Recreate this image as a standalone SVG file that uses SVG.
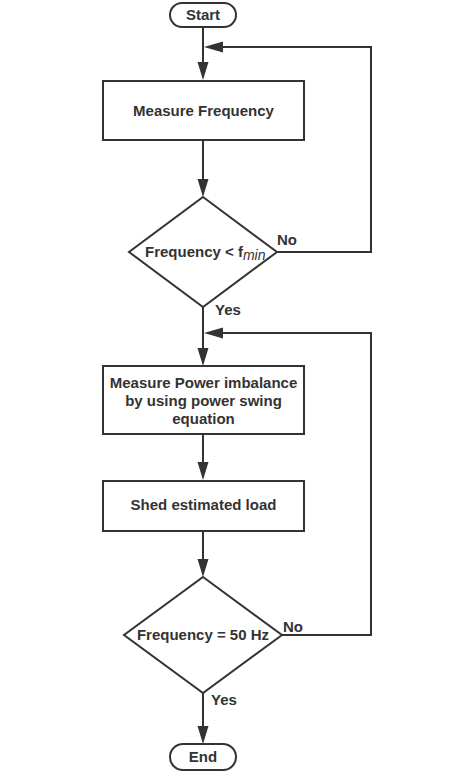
<svg xmlns="http://www.w3.org/2000/svg" width="474" height="781" viewBox="0 0 474 781">
<style>
.sh{fill:#fff;stroke:#333;stroke-width:2}
.ln{fill:none;stroke:#333;stroke-width:2}
.ah{fill:#333}
text{font-family:"Liberation Sans",Arial,sans-serif;font-weight:bold;font-size:15px;fill:#333}
.c{text-anchor:middle}
</style>
<rect width="474" height="781" fill="#fff"/>
<g id="connectors">
<line class="ln" x1="203" y1="27" x2="203" y2="66"/>
<polygon class="ah" points="197.5,62 208.5,62 203,80"/>
<polyline class="ln" points="276,252 371,252 371,47 222,47"/>
<polygon class="ah" points="223,41.5 223,52.5 204,47"/>
<line class="ln" x1="203" y1="140" x2="203" y2="182"/>
<polygon class="ah" points="197.5,179 208.5,179 203,197"/>
<line class="ln" x1="203" y1="307" x2="203" y2="350"/>
<polygon class="ah" points="197.5,348 208.5,348 203,366"/>
<polyline class="ln" points="282,635 371,635 371,333 222,333"/>
<polygon class="ah" points="223,327.5 223,338.5 204,333"/>
<line class="ln" x1="203" y1="434" x2="203" y2="465"/>
<polygon class="ah" points="197.5,462 208.5,462 203,480"/>
<line class="ln" x1="203" y1="531" x2="203" y2="562"/>
<polygon class="ah" points="197.5,559 208.5,559 203,577"/>
<line class="ln" x1="203" y1="693" x2="203" y2="729"/>
<polygon class="ah" points="197.5,726 208.5,726 203,744"/>
<text x="277" y="245">No</text>
<text x="215" y="315">Yes</text>
<text x="283" y="632">No</text>
<text x="211" y="705">Yes</text>
</g>
<g id="start">
<rect class="sh" x="170" y="3" width="66" height="24" rx="12"/>
<text class="c" x="203" y="20">Start</text>
</g>
<g id="measure-frequency">
<rect class="sh" x="103" y="81" width="201" height="59"/>
<text class="c" x="203.5" y="115.5">Measure Frequency</text>
</g>
<g id="decision-fmin">
<polygon class="sh" points="203,197 277,252 203,307 129,252"/>
<text x="145" y="257">Frequency &lt; f<tspan font-style="italic" font-weight="normal" font-size="14" dy="3">min</tspan></text>
</g>
<g id="measure-power">
<rect class="sh" x="103" y="366" width="201" height="68"/>
<text class="c" x="203.5" y="388">Measure Power imbalance</text>
<text class="c" x="203.5" y="406">by using power swing</text>
<text class="c" x="203.5" y="424">equation</text>
</g>
<g id="shed-load">
<rect class="sh" x="103" y="481" width="201" height="50"/>
<text class="c" x="203.5" y="510">Shed estimated load</text>
</g>
<g id="decision-50hz">
<polygon class="sh" points="203,577 282,635 203,693 124,635"/>
<text class="c" x="203" y="640">Frequency = 50 Hz</text>
</g>
<g id="end">
<rect class="sh" x="170" y="744" width="66" height="26" rx="13"/>
<text class="c" x="203" y="762">End</text>
</g>
</svg>
